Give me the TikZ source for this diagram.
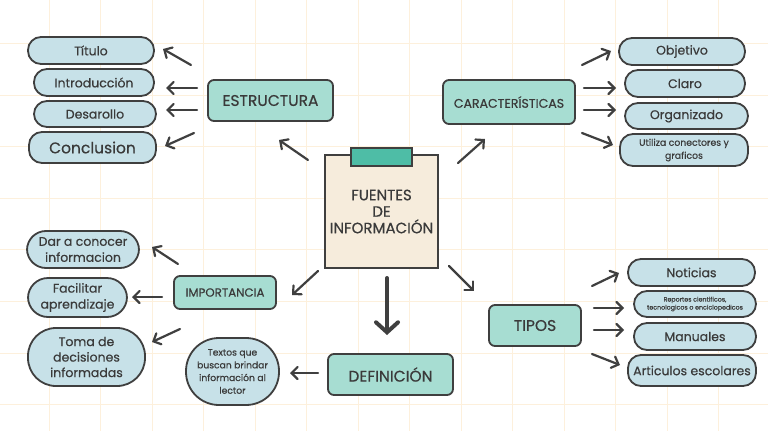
\documentclass[tikz,border=0pt]{standalone}
\usepackage{fontspec}
\setmainfont{Poppins}[FakeBold=0.5]
\usetikzlibrary{arrows.meta}
\definecolor{ln}{HTML}{3F3F3F}
\definecolor{txt}{HTML}{3A3A3A}
\definecolor{tealc}{HTML}{A7DDD2}
\definecolor{tabc}{HTML}{4EBDA6}
\definecolor{pillc}{HTML}{C7E1E8}
\definecolor{creamc}{HTML}{F6ECDC}
\definecolor{gridc}{HTML}{FDF0DC}
\tikzset{
  base/.style={draw=ln, line width=1.8pt, inner sep=0pt, outer sep=0pt, text=txt, align=center},
  pill/.style={base, fill=pillc, rounded corners=13pt},
  tealbox/.style={base, fill=tealc, rounded corners=6pt},
  arr/.style={draw=ln, line width=2.2pt, line cap=round, -{Straight Barb[length=6pt,width=12pt,line cap=round]}},
  bigarr/.style={draw=ln, line width=4pt, line cap=round, -{Straight Barb[length=10pt,width=22pt,line cap=round]}},
  fs/.style={font=\fontsize{#1}{#1}\selectfont},
}
\begin{document}
\begin{tikzpicture}[x=1pt,y=-1pt]
\useasboundingbox (0,0) rectangle (768,431);
\fill[white] (0,0) rectangle (768,431);
\foreach \k in {0,...,13} \draw[gridc, line width=0.8pt] ({49.3+51.5*\k},0) -- ({49.3+51.5*\k},431);
\foreach \k in {0,...,7} \draw[gridc, line width=0.8pt] (0,{43.3+51.6*\k}) -- (768,{43.3+51.6*\k});

% centre
\node[base, fill=creamc, rounded corners=0pt, minimum width=113pt, minimum height=113pt, font=\fontsize{15}{16.5}\selectfont] (ctr) at (381.5,211.5) {FUENTES\\DE\\INFORMACIÓN};
\node[base, fill=tabc, rounded corners=0pt, minimum width=61pt, minimum height=18pt] (tab) at (381.5,157) {};

% estructura
\node[tealbox, minimum width=125pt, minimum height=41pt, fs=15.5] (estr) at (270.5,100.5) {ESTRUCTURA};
\node[pill, minimum width=126pt, minimum height=27pt, fs=12.5] (tit) at (91,50.5) {Título};
\node[pill, minimum width=120pt, minimum height=27pt, fs=12.5] (intro) at (94,82.5) {Introducción};
\node[pill, minimum width=122pt, minimum height=26pt, fs=12.5] (desa) at (95,114) {Desarollo};
\node[pill, minimum width=127pt, minimum height=31pt, fs=15.5] (concl) at (92.5,147.5) {Conclusion};

% caracteristicas
\node[tealbox, minimum width=132pt, minimum height=44pt, fs=12.5] (carac) at (509,102) {CARACTERÍSTICAS};
\node[pill, minimum width=126pt, minimum height=27pt, fs=12.5] (obj) at (682,51.5) {Objetivo};
\node[pill, minimum width=120pt, minimum height=27pt, fs=12.5] (claro) at (685,83.5) {Claro};
\node[pill, minimum width=123pt, minimum height=26pt, fs=12.5] (organ) at (686.5,116) {Organizado};
\node[pill, minimum width=128pt, minimum height=32pt, font=\fontsize{9.3}{13}\selectfont] (util) at (684,150) {Utiliza conectores y\\graficos};

% importancia
\node[tealbox, minimum width=102pt, minimum height=33pt, fs=11.8] (impo) at (225,292.5) {IMPORTANCIA};
\node[pill, rounded corners=19pt, minimum width=112pt, minimum height=37pt, font=\fontsize{12.5}{16}\selectfont] (dar) at (83,249.5) {Dar a conocer\\informacion};
\node[pill, rounded corners=20pt, minimum width=99pt, minimum height=39pt, font=\fontsize{12.5}{16}\selectfont] (facil) at (77.5,297.5) {Facilitar\\aprendizaje};
\node[pill, rounded corners=28pt, minimum width=117pt, minimum height=58pt, font=\fontsize{12.5}{15.5}\selectfont] (toma) at (86.5,357) {Toma de\\decisiones\\informadas};

% definicion
\node[tealbox, minimum width=125pt, minimum height=41pt, fs=15.5] (defi) at (390.5,374.5) {DEFINICIÓN};
\node[pill, rounded corners=33pt, minimum width=93pt, minimum height=67pt, font=\fontsize{9.2}{12.7}\selectfont] (textos) at (232.5,371.5) {Textos que\\buscan brindar\\información al\\lector};

% tipos
\node[tealbox, minimum width=92pt, minimum height=41pt, fs=15.5] (tipos) at (535,325.5) {TIPOS};
\node[pill, minimum width=127pt, minimum height=27pt, fs=12.5] (noti) at (691.5,272.5) {Noticias};
\node[pill, minimum width=122pt, minimum height=26pt, font=\fontsize{6.3}{8}\selectfont] (repo) at (695,304) {Reportes cientificos,\\tecnologicos o enciclopedicos};
\node[pill, minimum width=122pt, minimum height=27pt, fs=12.5] (manu) at (695,336.5) {Manuales};
\node[pill, minimum width=128pt, minimum height=31pt, fs=12.5] (arti) at (692,370.5) {Articulos escolares};

% connectors
\draw[arr] ([shift={(-17,-35.5)}]estr.west) -- ([shift={(9,-1.5)}]tit.east);
\draw[arr] ([shift={(-11,-12.5)}]estr.west) -- ([shift={(12,5.5)}]intro.east);
\draw[arr] ([shift={(-11,9.5)}]estr.west) -- ([shift={(10,-4)}]desa.east);
\draw[arr] ([shift={(-14,32.5)}]estr.west) -- ([shift={(9,-1.5)}]concl.east);
\draw[arr] ([shift={(-17,5)}]ctr.north west) -- ([shift={(8.5,19)}]estr.south);
\draw[arr] ([shift={(20,8)}]ctr.north east) -- ([shift={(-24,15)}]carac.south);
\draw[arr] ([shift={(7,-37)}]carac.east) -- ([shift={(-8,-0.5)}]obj.west);
\draw[arr] ([shift={(9,-14)}]carac.east) -- ([shift={(-9,4.5)}]claro.west);
\draw[arr] ([shift={(9,8)}]carac.east) -- ([shift={(-9,-6)}]organ.west);
\draw[arr] ([shift={(7,31)}]carac.east) -- ([shift={(-7,-5)}]util.west);
\draw[arr] ([shift={(-7,3)}]ctr.south west) -- ([shift={(16,2.5)}]impo.east);
\draw[arr] ([shift={(11,-2)}]ctr.south east) -- ([shift={(-15,-14)}]tipos.north west);
\draw[bigarr] ([shift={(5.5,10)}]ctr.south) -- ([shift={(-3.5,-19)}]defi.north);
\draw[arr] ([shift={(4,-12)}]impo.north west) -- ([shift={(13,-2.5)}]dar.east);
\draw[arr] ([shift={(-12,4.5)}]impo.west) -- ([shift={(5,-0.5)}]facil.east);
\draw[arr] ([shift={(6,20)}]impo.south west) -- ([shift={(7,-15)}]toma.east);
\draw[arr] ([shift={(-10,-1.5)}]defi.west) -- ([shift={(11,1.5)}]textos.east);
\draw[arr] ([shift={(11,-39.5)}]tipos.east) -- ([shift={(-9,0.5)}]noti.west);
\draw[arr] ([shift={(13,-17.5)}]tipos.east) -- ([shift={(-10,4)}]repo.west);
\draw[arr] ([shift={(13,4.5)}]tipos.east) -- ([shift={(-10,-6.5)}]manu.west);
\draw[arr] ([shift={(11,28.5)}]tipos.east) -- ([shift={(-8,-5.5)}]arti.west);
\end{tikzpicture}
\end{document}
